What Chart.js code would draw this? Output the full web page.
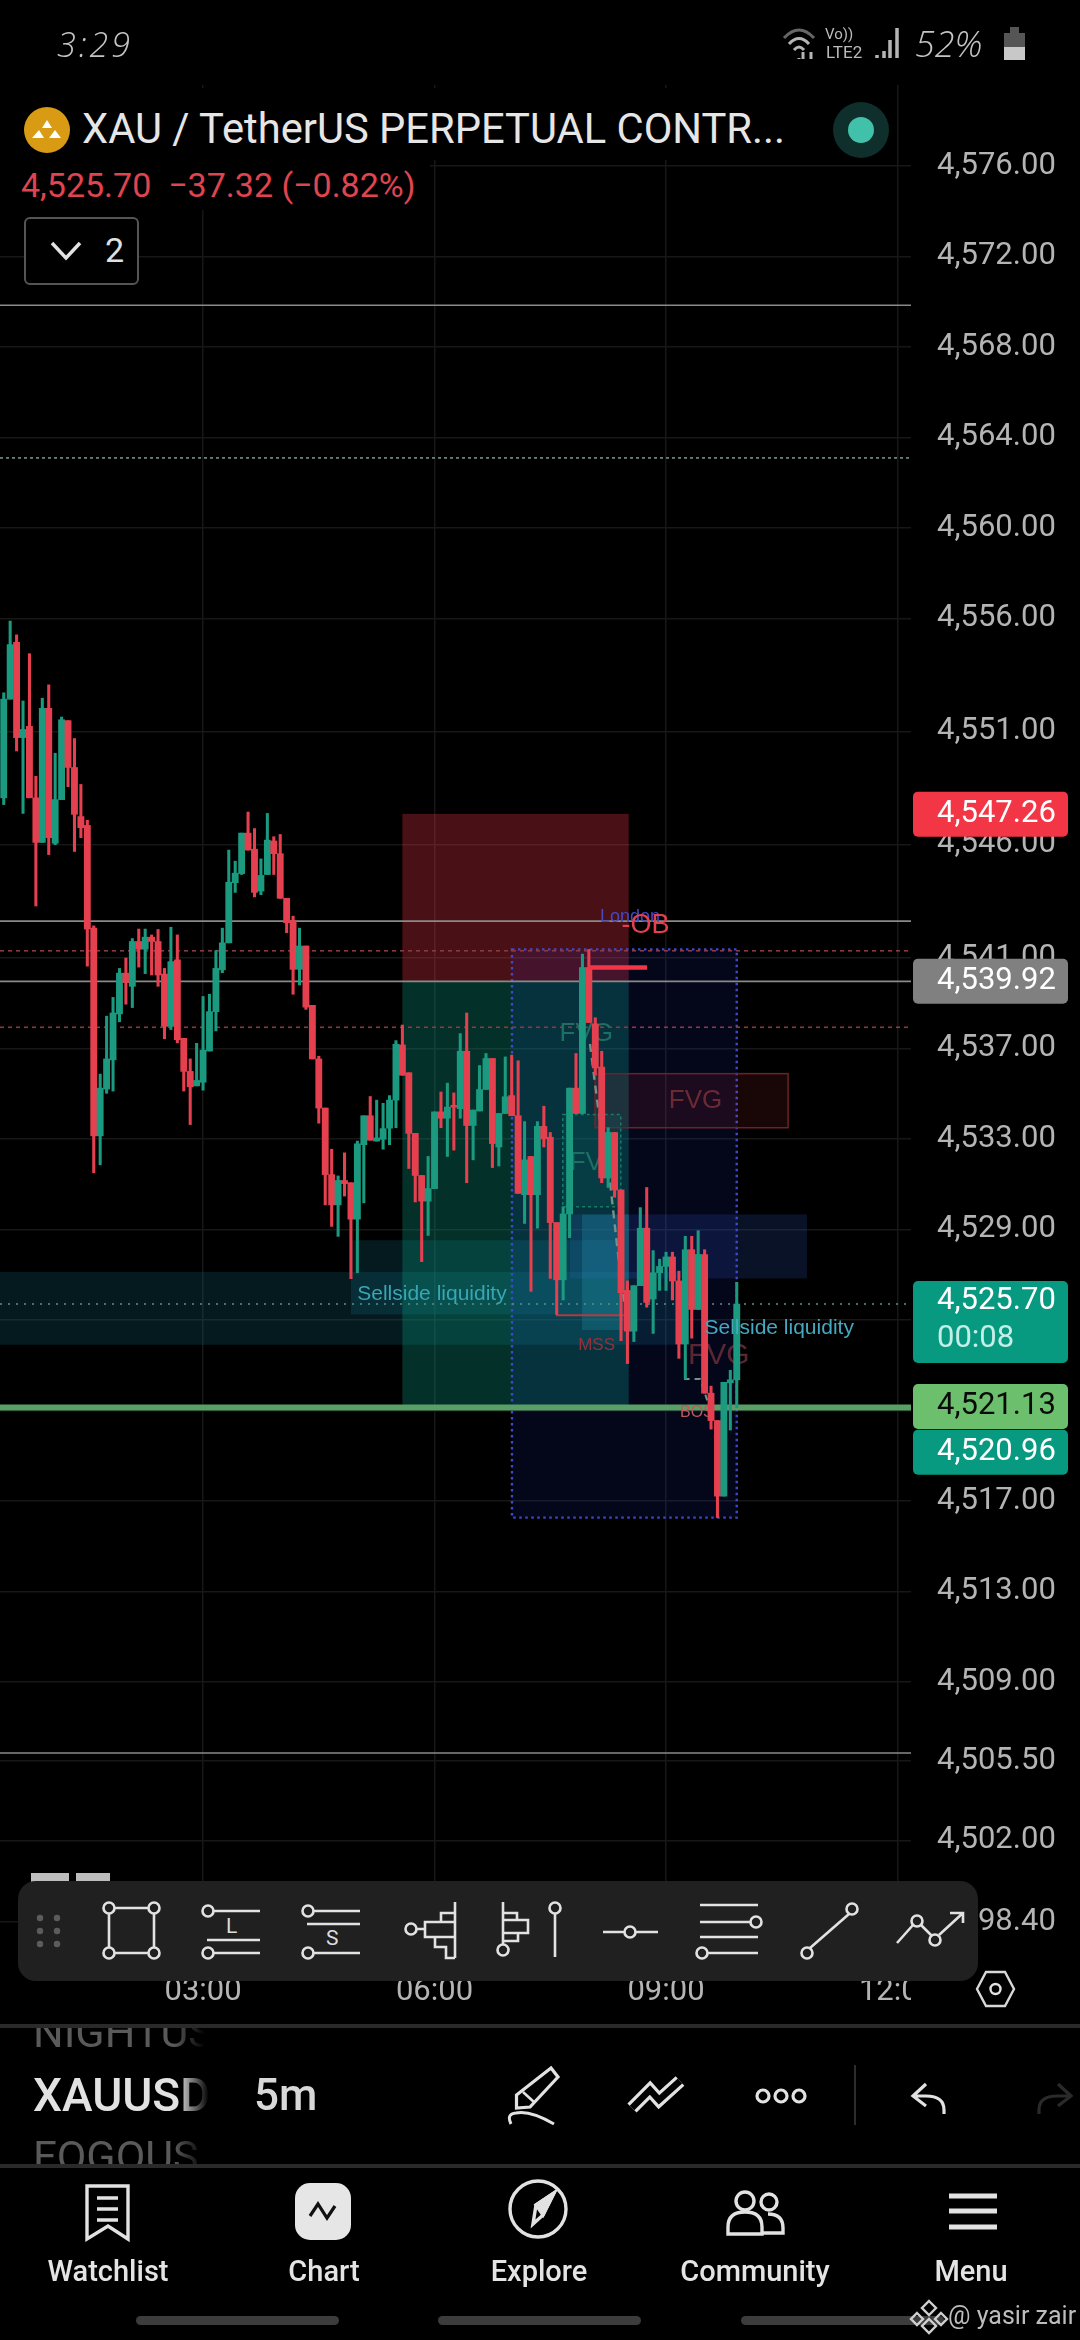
<!DOCTYPE html>
<html>
<head>
<meta charset="utf-8">
<title>XAUUSD 5m</title>
<script src="https://cdn.jsdelivr.net/npm/chart.js@4/dist/chart.umd.min.js"></script>
<style>
  html, body { margin: 0; padding: 0; background: #000; }
  #page { position: relative; width: 1080px; height: 2340px; overflow: hidden; background: #000; font-family: Roboto, sans-serif; }
  #chart { position: absolute; left: 0; top: 0; }
  #icons { position: absolute; left: 0; top: 0; }
  .t { position: absolute; white-space: nowrap; line-height: 1; }
  .box { position: absolute; }
  .nav { position: absolute; top: 2257px; width: 200px; text-align: center; font-size: 29px; font-weight: 500; color: #e4e4e4; line-height: 1; }
  .fade { -webkit-mask-image: linear-gradient(to right, #000 82%, transparent); mask-image: linear-gradient(to right, #000 82%, transparent); overflow: hidden; }
</style>
</head>
<body>
<div id="page">
  <canvas id="chart" width="1080" height="2340"></canvas>

  <!-- header -->
  <div class="box" style="left:0;top:88px;width:860px;height:72px;background:#000"></div>
  <div class="box" style="left:0;top:160px;width:430px;height:50px;background:#000"></div>
  <div class="t" style="left:57px;top:27px;font-size:34px;color:#c4c4c4;font-style:italic;font-family:'Open Sans';font-weight:300;letter-spacing:3px">3:29</div>
  <div class="t" style="left:825px;top:27px;font-size:15px;color:#bbb">Vo))</div>
  <div class="t" style="left:826px;top:44px;font-size:17px;color:#bbb">LTE2</div>
  <div class="t" style="left:915px;top:26px;font-size:36px;color:#c4c4c4;font-style:italic;font-family:'Open Sans';font-weight:300">52%</div>
  <div class="t" id="title" style="left:82px;top:108px;font-size:41.7px;color:#e6e6e6">XAU / TetherUS PERPETUAL CONTR...</div>
  <div class="t" style="left:21px;top:168px;font-size:34px;color:#e0444f">4,525.70&nbsp; −37.32 (−0.82%)</div>
  <div class="box" style="left:24px;top:217px;width:111px;height:64px;border:2px solid #555;border-radius:6px;background:#000"></div>
  <div class="t" style="left:105px;top:233px;font-size:34px;color:#e0e0e0">2</div>

  <!-- time axis right corner -->
  <div class="box" style="left:911px;top:1968px;width:169px;height:52px;background:#000"></div>

  <!-- drawing toolbar -->
  <div class="box" style="left:31px;top:1873px;width:38px;height:10px;background:#bdbdbd"></div>
  <div class="box" style="left:76px;top:1873px;width:34px;height:10px;background:#bdbdbd"></div>
  <div class="box" style="left:18px;top:1881px;width:960px;height:100px;background:#202020;border-radius:18px"></div>
  <div class="t" style="left:226px;top:1916px;font-size:21px;color:#ddd">L</div>
  <div class="t" style="left:326px;top:1928px;font-size:21px;color:#ddd">S</div>

  <!-- symbol row -->
  <div class="box" style="left:0;top:2024px;width:1080px;height:4px;background:#2a2a2a;z-index:2"></div>
  <div class="box" style="left:0;top:2164px;width:1080px;height:4px;background:#2a2a2a;z-index:2"></div>
  <div class="box fade" style="left:33px;top:2028px;width:172px;height:20px">
    <div class="t" style="left:0;top:-17px;font-size:43px;color:#5a5a5a">NIGHTUS</div>
  </div>
  <div class="t fade" style="left:33px;top:2072px;font-size:46px;font-weight:500;color:#e2e2e2;width:176px">XAUUSD</div>
  <div class="t" style="left:254px;top:2073px;font-size:44px;font-weight:500;color:#d8d8d8">5m</div>
  <div class="box fade" style="left:33px;top:2140px;width:172px;height:25px">
    <div class="t" style="left:0;top:-5px;font-size:43px;color:#5a5a5a">FOGOUS</div>
  </div>

  <!-- bottom nav -->
  <div class="nav" style="left:8px">Watchlist</div>
  <div class="nav" style="left:224px">Chart</div>
  <div class="nav" style="left:439px">Explore</div>
  <div class="nav" style="left:655px">Community</div>
  <div class="nav" style="left:871px">Menu</div>
  <div class="t" style="left:948px;top:2303px;font-size:25px;color:#bdbdbd;z-index:3">@ yasir zair</div>

  <svg id="icons" width="1080" height="2340" viewBox="0 0 1080 2340" fill="none" stroke="#e2e2e2" stroke-width="2.6">
    <!-- status icons -->
    <g stroke="#b5b5b5" stroke-width="3">
      <path d="M784 38 Q799 22 814 38" stroke="#666"/><path d="M789 44 Q799 33 809 44"/><path d="M794 50 Q799 44 804 50"/>
      <path d="M799 58v1M803 52v7M811 52v7"/>
      <path d="M877 58v-3M884 58v-7M890 58v-18M897 58v-30" stroke-width="3.5"/>
    </g>
    <rect x="1004" y="35" width="21" height="25" fill="#c8c8c8" stroke="none"/>
    <rect x="1004" y="33" width="21" height="14" fill="#555" stroke="none"/>
    <rect x="1010" y="27" width="9" height="6" fill="#555" stroke="none"/>

    <!-- symbol icon and status dot -->
    <circle cx="47" cy="130" r="23" fill="#d99a14" stroke="none"/>
    <path d="M47 120l5 8h-10zM39 130l5 8h-12zM55 130l6 8h-12z" fill="#fff" stroke="none"/>
    <circle cx="861" cy="130" r="28" fill="#0e2f2b" stroke="none"/>
    <circle cx="861" cy="130" r="13" fill="#42c1aa" stroke="none"/>
    <path d="M52 243l14 15 14-15" stroke-width="3.5"/>

    <!-- toolbar -->
    <g fill="#5c5c5c" stroke="none">
      <circle cx="40" cy="1918" r="3.2"/><circle cx="57" cy="1918" r="3.2"/>
      <circle cx="40" cy="1931" r="3.2"/><circle cx="57" cy="1931" r="3.2"/>
      <circle cx="40" cy="1944" r="3.2"/><circle cx="57" cy="1944" r="3.2"/>
    </g>
    <g>
      <path d="M114 1908h35M114 1953h35M109 1913v35M154 1913v35"/>
      <circle cx="109" cy="1908" r="5.5"/><circle cx="154" cy="1908" r="5.5"/><circle cx="109" cy="1953" r="5.5"/><circle cx="154" cy="1953" r="5.5"/>
      <path d="M214 1911h46M207 1940h53M214 1953h46"/>
      <circle cx="208" cy="1911" r="5.5"/><circle cx="208" cy="1953" r="5.5"/>
      <path d="M314 1911h46M307 1924h53M314 1953h46"/>
      <circle cx="308" cy="1911" r="5.5"/><circle cx="308" cy="1953" r="5.5"/>
      <path d="M455 1902v56M455 1913h-14v9h-16v15h10v10h11v11h9M441 1922h14M425 1929h-9M425 1937h30"/>
      <circle cx="411" cy="1929" r="5.5"/>
      <path d="M503 1902v43M503 1913h14v7h11v13h-10v8h-15M503 1920h14M503 1933h15"/>
      <circle cx="503" cy="1950" r="5.5"/>
      <path d="M555 1914v43"/><circle cx="555" cy="1908" r="5.5"/>
      <path d="M603 1932h22M636 1932h22"/><circle cx="630" cy="1932" r="5.5"/>
      <path d="M700 1905h58M700 1922h50M700 1937h58M708 1953h50"/>
      <circle cx="756" cy="1922" r="5.5"/><circle cx="702" cy="1953" r="5.5"/>
      <path d="M810 1948l39-34"/><circle cx="807" cy="1953" r="5.5"/><circle cx="852" cy="1909" r="5.5"/>
      <path d="M897 1943l16-18M921 1925l11 11M939 1935l24-22M950 1913h13v10"/>
      <circle cx="917" cy="1921" r="5.5"/><circle cx="935" cy="1940" r="5.5"/>
    </g>

    <!-- settings hexagon -->
    <path d="M977 1989l9-17h19l9 17-9 17h-19z" stroke-width="2.4" stroke="#d8d8d8"/>
    <circle cx="995.5" cy="1989" r="5" stroke-width="2.4"/>

    <!-- action row -->
    <g stroke-width="3.2">
      <path d="M551 2068l7 9-28 30-13.500 1v-13z"/>
      <path d="M523 2092l12 11" stroke-width="2.6"/>
      <path d="M511 2124q-5-10 5-11q14-3 38 11" stroke-width="3"/>
      <path d="M632 2108l18-18 9 10 21-19" stroke-width="13"/>
      <path d="M632 2108l18-18 9 10 21-19" stroke="#000" stroke-width="6.500"/>
      <circle cx="763" cy="2096" r="6"/><circle cx="781" cy="2096" r="6"/><circle cx="799" cy="2096" r="6"/>
      <path d="M926 2084l-13 12 13 10M913 2096h13q18 0 18 14v4"/>
      <path d="M1058 2084l13 12-13 10M1071 2096h-14q-18 0-18 14v4" stroke="#2a2a2a"/>
    </g>
    <path d="M855 2065v60" stroke="#2c2c2c" stroke-width="2"/>

    <!-- bottom nav icons -->
    <g stroke-width="3.4">
      <path d="M87 2186h41v53l-20-13-21 13z"/>
      <path d="M97 2198h21M97 2209h21M97 2220h21" stroke-width="3.6"/>
      <circle cx="538" cy="2209" r="28"/>
      <path d="M554 2193l-11 22-10 9 3-19z" />
      <path d="M554 2193l-18 12 7 10z" fill="#e2e2e2"/>
      <circle cx="745" cy="2201" r="9" /><circle cx="769" cy="2202" r="8"/>
      <path d="M728 2234v-7q0-15 17-15q17 0 17 15v7zM768 2214q15 0 15 14v5h-20"/>
      <path d="M949 2196h48M949 2211h48M949 2227h48" stroke-width="5"/>
    </g>
    <rect x="295" y="2183" width="56" height="57" rx="15" fill="#e6e6e6" stroke="none"/>
    <path d="M310 2216l8-12 9 14 8-12" stroke="#111" stroke-width="3.2"/>

    <!-- home pills and watermark mark -->
    <g fill="#3c3c3c" stroke="none">
      <rect x="136" y="2316" width="203" height="9" rx="4.5"/>
      <rect x="438" y="2316" width="203" height="9" rx="4.5"/>
      <rect x="741" y="2316" width="203" height="9" rx="4.5"/>
    </g>
    <path d="M929 2304l7 7-7 7-7-7zM917 2316l6 6-6 6-6-6zM941 2316l6 6-6 6-6-6zM929 2322l7 7-7 7-7-7z" stroke="#cfcfcf" stroke-width="2.4" transform="translate(0 -3)"/>
  </svg>
</div>

<script>
// candles, 5 minute bars, time is minutes since 00:00
const barMinutes = [
  25, 30, 35, 40, 45, 50, 55, 60, 65, 70, 75, 80, 85, 90, 95, 100, 105, 110, 115, 120,
  125, 130, 135, 140, 145, 150, 155, 160, 165, 170, 175, 180, 185, 190, 195, 200, 205, 210, 215, 220,
  225, 230, 235, 240, 245, 250, 255, 260, 265, 270, 275, 280, 285, 290, 295, 300, 305, 310, 315, 320,
  325, 330, 335, 340, 345, 350, 355, 360, 365, 370, 375, 380, 385, 390, 395, 400, 405, 410, 415, 420,
  425, 430, 435, 440, 445, 450, 455, 460, 465, 470, 475, 480, 485, 490, 495, 500, 505, 510, 515, 520,
  525, 530, 535, 540, 545, 550, 555, 560, 565, 570, 575, 580, 585, 590, 595,
];
const opens = [
  4548.07, 4552.43, 4554.94, 4550.73, 4551.23, 4548.07, 4546.1, 4552.02, 4546.06, 4547.99,
  4551.48, 4549.41, 4547.24, 4546.85, 4542.31, 4533.13, 4535.2, 4536.49, 4538.52, 4540.32,
  4539.74, 4541.72, 4541.38, 4541.91, 4541.72, 4540.28, 4537.97, 4540.91, 4537.44, 4535.98,
  4535.34, 4535.5, 4536.88, 4538.62, 4540.47, 4541.66, 4544.32, 4544.72, 4546.51, 4545.8,
  4543.95, 4544.68, 4546.16, 4545.6, 4543.63, 4542.64, 4540.49, 4541.52, 4538.9, 4536.53,
  4534.36, 4531.42, 4530.08, 4531.16, 4531.06, 4529.45, 4532.74, 4534.02, 4532.9, 4532.98,
  4533.47, 4534.71, 4537.15, 4535.92, 4533.24, 4531.38, 4530.25, 4530.8, 4534.19, 4533.91,
  4534.48, 4534.33, 4536.87, 4533.59, 4534.23, 4535.18, 4536.55, 4532.64, 4534.12, 4534.91,
  4534.02, 4530.53, 4532.22, 4530.53, 4533.55, 4533.07, 4529.3, 4526.77, 4529.68, 4535.24,
  4534.12, 4540.57, 4538.08, 4536.17, 4531.27, 4533.28, 4530.74, 4526.3, 4524.5, 4526.51,
  4529.05, 4525.92, 4527.08, 4527.36, 4527.78, 4526.72, 4523.93, 4528.1, 4525.46, 4527.89,
  4521.76, 4520.55, 4517.21, 4522.22, 4522.35,
];
const closes = [
  4552.43, 4554.84, 4550.73, 4551.09, 4548.07, 4546.1, 4552.02, 4546.31, 4547.99, 4551.52,
  4549.41, 4547.34, 4546.75, 4542.27, 4533.13, 4535.24, 4536.53, 4538.56, 4540.32, 4539.9,
  4541.72, 4541.38, 4541.91, 4541.72, 4540.24, 4537.97, 4540.83, 4537.38, 4535.98, 4535.3,
  4535.58, 4536.92, 4538.62, 4540.53, 4541.66, 4544.34, 4544.74, 4546.51, 4545.76, 4543.89,
  4544.64, 4546.2, 4545.6, 4543.63, 4542.55, 4540.49, 4541.52, 4538.82, 4536.53, 4534.36,
  4531.42, 4530.08, 4531.16, 4531.02, 4529.45, 4532.78, 4534.02, 4532.94, 4533.04, 4533.45,
  4534.71, 4537.18, 4535.81, 4533.24, 4531.38, 4530.25, 4530.8, 4534.19, 4533.91, 4534.4,
  4534.4, 4536.87, 4533.59, 4534.27, 4535.18, 4536.55, 4532.79, 4534.12, 4534.86, 4534.02,
  4530.59, 4532.07, 4530.53, 4533.55, 4533.0, 4529.3, 4526.77, 4529.68, 4535.24, 4534.12,
  4540.57, 4538.14, 4536.13, 4531.27, 4533.28, 4530.74, 4526.2, 4524.5, 4526.51, 4529.05,
  4525.77, 4527.08, 4527.36, 4527.78, 4526.72, 4523.93, 4528.1, 4525.46, 4527.89, 4521.76,
  4520.55, 4517.21, 4522.24, 4522.35, 4525.7,
];
const highs = [
  4552.71, 4555.88, 4555.27, 4552.35, 4554.44, 4549.02, 4552.47, 4553.06, 4550.04, 4551.64,
  4551.48, 4550.69, 4548.66, 4547.08, 4542.41, 4535.86, 4538.42, 4539.25, 4540.53, 4540.99,
  4541.85, 4542.27, 4542.27, 4542.01, 4542.25, 4540.53, 4542.35, 4542.01, 4537.44, 4536.53,
  4537.22, 4539.29, 4539.39, 4541.32, 4542.31, 4545.76, 4545.27, 4546.51, 4547.44, 4546.71,
  4545.37, 4547.38, 4546.35, 4546.45, 4543.63, 4542.84, 4542.31, 4541.52, 4538.9, 4536.65,
  4534.36, 4532.54, 4531.36, 4532.38, 4531.06, 4532.9, 4534.02, 4534.87, 4534.71, 4534.57,
  4534.91, 4537.34, 4538.03, 4535.92, 4533.24, 4531.38, 4532.22, 4534.19, 4535.07, 4535.46,
  4535.03, 4537.65, 4538.56, 4534.27, 4536.24, 4536.77, 4536.55, 4534.12, 4536.62, 4536.7,
  4536.45, 4533.76, 4532.22, 4533.76, 4534.44, 4533.28, 4529.3, 4530.0, 4535.24, 4536.77,
  4541.16, 4541.37, 4538.35, 4536.87, 4533.49, 4533.28, 4530.74, 4526.72, 4526.51, 4529.96,
  4530.85, 4528.06, 4527.68, 4527.99, 4527.99, 4527.15, 4528.69, 4528.69, 4528.94, 4528.1,
  4522.07, 4520.55, 4522.24, 4522.77, 4526.66,
];
const lows = [
  4547.77, 4552.43, 4550.14, 4547.38, 4548.07, 4543.29, 4546.1, 4545.56, 4546.0, 4547.99,
  4548.56, 4545.7, 4546.31, 4540.63, 4531.5, 4531.85, 4535.01, 4535.11, 4538.17, 4538.95,
  4538.8, 4540.59, 4540.3, 4540.24, 4539.74, 4537.42, 4537.83, 4537.24, 4535.11, 4533.63,
  4535.34, 4535.15, 4536.88, 4537.77, 4540.34, 4541.66, 4543.89, 4544.68, 4545.76, 4543.69,
  4543.79, 4544.68, 4544.68, 4543.63, 4542.11, 4539.39, 4539.8, 4538.72, 4536.53, 4533.69,
  4530.08, 4529.13, 4528.69, 4530.47, 4526.82, 4527.08, 4530.17, 4532.94, 4532.9, 4532.54,
  4532.74, 4533.49, 4535.81, 4531.69, 4530.21, 4527.57, 4528.73, 4530.8, 4533.49, 4532.22,
  4532.5, 4533.91, 4531.06, 4532.07, 4534.23, 4535.18, 4531.73, 4531.8, 4534.12, 4534.02,
  4530.59, 4529.26, 4526.26, 4529.05, 4532.64, 4526.83, 4525.24, 4525.88, 4528.63, 4534.12,
  4534.12, 4538.14, 4535.81, 4531.06, 4530.85, 4530.42, 4524.08, 4523.07, 4524.04, 4526.51,
  4525.56, 4524.4, 4526.3, 4526.3, 4525.88, 4523.3, 4522.39, 4524.19, 4525.46, 4521.76,
  4520.17, 4516.26, 4517.21, 4520.13, 4521.12,
];

// axes
const priceTicks = [4576, 4572, 4568, 4564, 4560, 4556, 4551, 4546, 4541, 4537, 4533, 4529, 4525, 4521, 4517, 4513, 4509, 4505.5, 4502, 4498.4];
const timeTicks = [180, 360, 540, 720];
const timeLabels = ["03:00", "06:00", "09:00", "12:00"];

// drawings: [from minute, to minute, top price, bottom price]
const bandLow = [22, 548.5, 4527.12, 4523.9];
const bandMid = [295, 505, 4528.52, 4525.24];
const bandHigh = [465.3, 649.6, 4529.66, 4526.83];
const bandBright = [474.7, 511.2, 4529.66, 4524.55];
const stopZone = [335, 511, 4547.36, 4539.96];
const targetZone = [335, 511, 4539.96, 4521.13];
const sessionBox = [420.2, 595, 4541.37, 4516.26];
const fvgBox = [484.8, 634.9, 4535.88, 4533.49];
const greenFvgBox = [459.7, 504.8, 4534.08, 4530.0];

// horizontal levels
const greyLevels = [4569.84, 4542.62, 4539.96, 4505.86];
const redDashedLevels = [4541.31, 4537.93];
const tealDashedLevel = 4563.09;
const lastPrice = 4525.7;
const greenLevel = 4521.13;
const obLine = [479.3, 525.2, 4540.57];

// dashed structure paths: minute, price
const pathMinutes = [480.9, 487, 496.5, 502.7, 508];
const pathPrices = [4537.19, 4534.44, 4531.06, 4527.89, 4525.56];
const bosPathMinutes = [554.8, 554.8, 566.4, 576.5];
const bosPathPrices = [4526.83, 4522.39, 4522.39, 4520.7];
const mssPathMinutes = [455.2, 455.2, 508.1];
const mssPathPrices = [4526.72, 4525.2, 4525.2];

// price tags on the axis
const tagPrices = [4547.26, 4539.92, 4521.13, 4520.96];
const countdown = "00:08";

const UP = "#1b9a80";
const DOWN = "#e5404f";

function fmt(v) {
  return v.toLocaleString("en-US", { minimumFractionDigits: 2, maximumFractionDigits: 2 });
}

function zoneRect(ctx, sc, z, fill) {
  const x1 = sc.x.getPixelForValue(z[0]);
  const x2 = sc.x.getPixelForValue(z[1]);
  const y1 = sc.y.getPixelForValue(z[2]);
  const y2 = sc.y.getPixelForValue(z[3]);
  ctx.fillStyle = fill;
  ctx.fillRect(x1, y1, x2 - x1, y2 - y1);
  return [x1, y1, x2 - x1, y2 - y1];
}

function hLine(ctx, sc, price, color, width, dash) {
  const y = sc.y.getPixelForValue(price);
  ctx.strokeStyle = color;
  ctx.lineWidth = width;
  ctx.setLineDash(dash);
  ctx.beginPath();
  ctx.moveTo(sc.x.left, y);
  ctx.lineTo(sc.x.right, y);
  ctx.stroke();
  ctx.setLineDash([]);
}

function path(ctx, sc, xs, ys, color, width, dash) {
  ctx.strokeStyle = color;
  ctx.lineWidth = width;
  ctx.setLineDash(dash);
  ctx.beginPath();
  xs.forEach((m, i) => {
    const px = sc.x.getPixelForValue(m);
    const py = sc.y.getPixelForValue(ys[i]);
    if (i === 0) ctx.moveTo(px, py);
    else ctx.lineTo(px, py);
  });
  ctx.stroke();
  ctx.setLineDash([]);
}

function label(ctx, sc, text, m, price, font, color) {
  ctx.font = font;
  ctx.fillStyle = color;
  ctx.textAlign = "center";
  ctx.textBaseline = "middle";
  ctx.fillText(text, sc.x.getPixelForValue(m), sc.y.getPixelForValue(price));
}

// everything that sits under the candles
const drawingsBelow = {
  id: "drawingsBelow",
  beforeDatasetsDraw(chart) {
    const ctx = chart.ctx;
    const sc = chart.scales;
    ctx.save();
    ctx.beginPath();
    ctx.rect(sc.x.left, sc.y.top, sc.x.right - sc.x.left, sc.y.bottom - sc.y.top);
    ctx.clip();

    zoneRect(ctx, sc, bandLow, "rgba(20,130,150,0.2)");
    zoneRect(ctx, sc, bandMid, "rgba(20,130,150,0.2)");
    zoneRect(ctx, sc, bandHigh, "rgba(50,90,200,0.2)");
    zoneRect(ctx, sc, stopZone, "rgba(242,54,69,0.3)");
    zoneRect(ctx, sc, targetZone, "rgba(8,153,129,0.32)");
    zoneRect(ctx, sc, bandBright, "rgba(40,170,180,0.25)");

    // session box
    const b = zoneRect(ctx, sc, sessionBox, "rgba(40,60,255,0.1)");
    ctx.strokeStyle = "#3f48cc";
    ctx.lineWidth = 2.4;
    ctx.setLineDash([2.5, 3.5]);
    ctx.strokeRect(b[0], b[1], b[2], b[3]);
    ctx.setLineDash([]);

    const f = zoneRect(ctx, sc, fvgBox, "rgba(242,54,69,0.1)");
    ctx.strokeStyle = "#6e2228";
    ctx.lineWidth = 1.5;
    ctx.strokeRect(f[0], f[1], f[2], f[3]);

    const g = zoneRect(ctx, sc, greenFvgBox, "rgba(8,153,129,0.1)");
    ctx.strokeStyle = "#1a7a68";
    ctx.lineWidth = 1.5;
    ctx.setLineDash([3, 3]);
    ctx.strokeRect(g[0], g[1], g[2], g[3]);
    ctx.setLineDash([]);

    greyLevels.forEach((p) => hLine(ctx, sc, p, "#8a8a8a", 1.6, []));
    redDashedLevels.forEach((p) => hLine(ctx, sc, p, "#8a3a42", 1.6, [4, 4]));
    hLine(ctx, sc, tealDashedLevel, "#7f9a92", 1.5, [3, 3]);
    hLine(ctx, sc, lastPrice, "#5f8f86", 1.6, [2, 6]);
    hLine(ctx, sc, greenLevel, "#5aa066", 6, []);

    path(ctx, sc, pathMinutes, pathPrices, "#76908c", 2.4, [8, 6]);
    path(ctx, sc, bosPathMinutes, bosPathPrices, "#76908c", 2, [6, 5]);
    path(ctx, sc, mssPathMinutes, mssPathPrices, "#b03c40", 2, []);

    label(ctx, sc, "FVG", 563, 4534.69, "26px Liberation Sans", "#6a2a34");
    label(ctx, sc, "FVG", 478, 4537.62, "26px Liberation Sans", "#1c6f62");
    label(ctx, sc, "FV", 478, 4531.92, "26px Liberation Sans", "#1c6f62");
    label(ctx, sc, "FVG", 581, 4523.42, "30px Liberation Sans", "#5a2632");
    label(ctx, sc, "MSS", 486, 4523.87, "17px Liberation Sans", "#96303a");
    label(ctx, sc, "BOS", 564, 4520.92, "16px Liberation Sans", "#bc5a5a");
    label(ctx, sc, "Sellside liquidity", 358, 4526.12, "21px Liberation Sans", "#38a6b4");
    ctx.restore();
  },
  afterDatasetsDraw(chart) {
    const ctx = chart.ctx;
    const sc = chart.scales;
    ctx.save();
    label(ctx, sc, "Sellside liquidity", 628, 4524.62, "21px Liberation Sans", "#45a8c0");
    label(ctx, sc, "London", 512, 4542.79, "18px Liberation Sans", "#4349c4");
    label(ctx, sc, "-OB", 524, 4542.42, "27px Liberation Sans", "#e5404f");
    path(ctx, sc, [obLine[0], obLine[1]], [obLine[2], obLine[2]], "#f23645", 4.5, []);
    ctx.restore();
  },
  afterDraw(chart) {
    const ctx = chart.ctx;
    const sc = chart.scales;
    ctx.save();
    ctx.textBaseline = "middle";
    ctx.textAlign = "left";
    const left = 913;
    const w = 155;

    function tag(price, h, fill, color, shift) {
      const y = sc.y.getPixelForValue(price) + shift;
      ctx.fillStyle = fill;
      ctx.beginPath();
      ctx.roundRect(left, y - h / 2, w, h, 5);
      ctx.fill();
      ctx.fillStyle = color;
      ctx.font = "31px Roboto";
      ctx.fillText(fmt(price), 937, y);
    }

    tag(tagPrices[0], 45, "#f23645", "#ffffff", -2);
    tag(tagPrices[1], 45, "#808080", "#ffffff", -1);

    // last price and countdown
    const ly = sc.y.getPixelForValue(lastPrice);
    ctx.fillStyle = "#089981";
    ctx.beginPath();
    ctx.roundRect(left, ly - 23, w, 82, 5);
    ctx.fill();
    ctx.fillStyle = "#ffffff";
    ctx.font = "31px Roboto";
    ctx.fillText(fmt(lastPrice), 937, ly - 3);
    ctx.fillStyle = "#c4efe6";
    ctx.fillText(countdown, 937, ly + 35);

    // these two overlap on the axis, so the lower one is stacked below
    tag(tagPrices[3], 45, "#089981", "#ffffff", 41);
    tag(tagPrices[2], 45, "#6cbf6c", "#0a0a0a", -1);
    ctx.restore();
  },
};

new Chart(document.getElementById("chart"), {
  type: "bar",
  plugins: [drawingsBelow],
  data: {
    datasets: [
      {
        label: "wick",
        data: barMinutes.map((m, i) => ({ x: m, y: [lows[i], highs[i]] })),
        backgroundColor: closes.map((c, i) => (c >= opens[i] ? UP : DOWN)),
        barThickness: 2.4,
        grouped: false,
        borderWidth: 0,
      },
      {
        label: "body",
        data: barMinutes.map((m, i) => ({ x: m, y: [opens[i], closes[i]] })),
        backgroundColor: closes.map((c, i) => (c >= opens[i] ? UP : DOWN)),
        barThickness: 6.2,
        grouped: false,
        borderWidth: 0,
      },
    ],
  },
  options: {
    responsive: false,
    devicePixelRatio: 1,
    animation: false,
    events: [],
    layout: { padding: { top: 85, right: 0, bottom: 325, left: 0 } },
    plugins: { legend: { display: false }, title: { display: false }, tooltip: { enabled: false } },
    scales: {
      x: {
        type: "linear",
        offset: false,
        min: 22.1,
        max: 730.5,
        border: { display: false },
        grid: { color: "#171717", lineWidth: 1.5, offset: false, drawTicks: false },
        afterBuildTicks(axis) {
          axis.ticks = timeTicks.map((v) => ({ value: v }));
        },
        afterFit(axis) {
          axis.height = 50;
        },
        ticks: {
          color: "#b4b4b4",
          font: { family: "Roboto", size: 31 },
          padding: 9,
          maxRotation: 0,
          autoSkip: false,
          callback: (v) => timeLabels[timeTicks.indexOf(v)],
        },
      },
      y: {
        position: "right",
        min: 4496.49,
        max: 4579.57,
        border: { display: false },
        grid: { color: "#171717", lineWidth: 1.5, drawTicks: false },
        afterBuildTicks(axis) {
          axis.ticks = priceTicks.map((v) => ({ value: v }));
        },
        afterFit(axis) {
          axis.width = 169;
        },
        ticks: {
          color: "#b4b4b4",
          font: { family: "Roboto", size: 31 },
          padding: 26,
          autoSkip: false,
          callback: (v) => fmt(v),
        },
      },
    },
  },
});
</script>
</body>
</html>
